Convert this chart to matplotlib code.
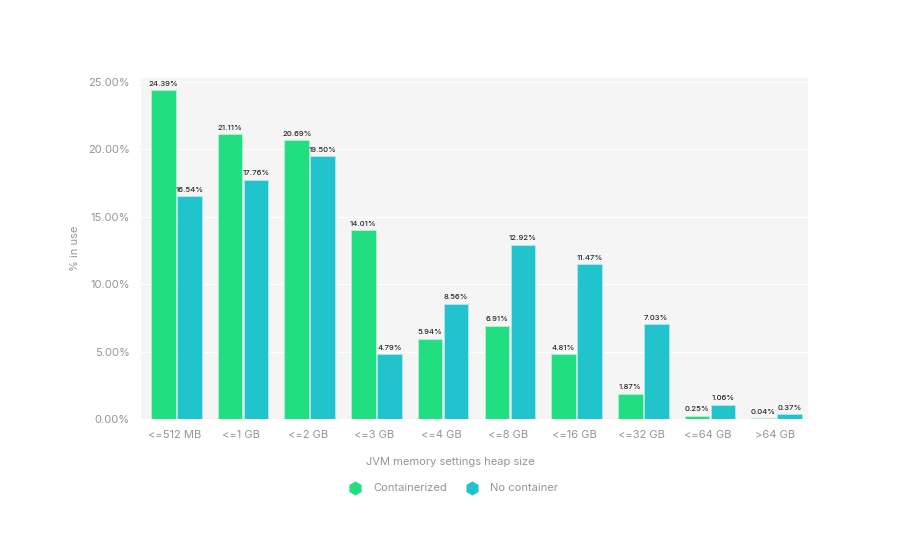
import matplotlib
matplotlib.use("Agg")
import matplotlib.pyplot as plt
import numpy as np

categories = ["<=512 MB", "<=1 GB", "<=2 GB", "<=3 GB", "<=4 GB", "<=8 GB",
              "<=16 GB", "<=32 GB", "<=64 GB", ">64 GB"]
containerized = [24.39, 21.11, 20.69, 14.01, 5.94, 6.91, 4.81, 1.87, 0.25, 0.04]
no_container = [16.54, 17.76, 19.50, 4.79, 8.56, 12.92, 11.47, 7.03, 1.06, 0.37]
yticks = [0, 5, 10, 15, 20, 25]

green = "#21df80"
cyan = "#21c4cc"
grey = "#959595"

plt.rcParams['font.family'] = ['Inter', 'DejaVu Sans']

fig = plt.figure(figsize=(9, 5.45), dpi=100)
W, H = 900, 545
left, right, top, bottom = 141, 808, 78, 419
ax = fig.add_axes([left / W, 1 - bottom / H, (right - left) / W, (bottom - top) / H])
ax.set_facecolor("#f5f5f5")

x = np.arange(len(categories))
bw = 0.37
b1 = ax.bar(x - 0.165, containerized, bw, color=green, edgecolor="#b8f2d6", linewidth=0.6, zorder=3)
b2 = ax.bar(x + 0.225, no_container, bw, color=cyan, edgecolor="#b5e9ec", linewidth=0.6, zorder=3)

for bars, vals in ((b1, containerized), (b2, no_container)):
    for r, v in zip(bars, vals):
        ax.annotate(f"{v:.2f}%", (r.get_x() + r.get_width() / 2, v),
                    xytext=(0, 2.5), textcoords="offset points",
                    ha="center", va="bottom", fontsize=5.6, color="#2b2b2b",
                    fontweight="medium", zorder=4)

ax.set_xlim(-0.5, len(categories) - 0.5)
ax.set_ylim(0, 25.3)
ax.set_yticks(yticks)
ax.set_yticklabels([f"{t:.2f}%" for t in yticks])
ax.set_xticks(x)
ax.set_xticklabels(categories)
ax.grid(axis="y", color="white", linewidth=1.0, zorder=1)
ax.set_axisbelow(True)
for s in ax.spines.values():
    s.set_visible(False)
ax.tick_params(axis="both", length=0, labelsize=8, colors=grey, pad=8)
ax.tick_params(axis="y", pad=8)

fig.text(450 / W, 1 - 462 / H, "JVM memory settings heap size", ha="center", va="center",
         fontsize=8, color=grey)
fig.text(75 / W, 1 - 248 / H, "% in use", ha="center", va="center", rotation=90,
         fontsize=8, color=grey)

# legend
for mx, label, c in ((355, "Containerized", green), (472, "No container", cyan)):
    fig.lines.append(plt.Line2D([mx / W], [1 - 488 / H], marker="h", markersize=9,
                                color=c, linestyle="none", transform=fig.transFigure))
    fig.text((mx + 18) / W, 1 - 488 / H, label, ha="left", va="center",
             fontsize=8, color=grey)

fig.savefig("out.png", dpi=100)
